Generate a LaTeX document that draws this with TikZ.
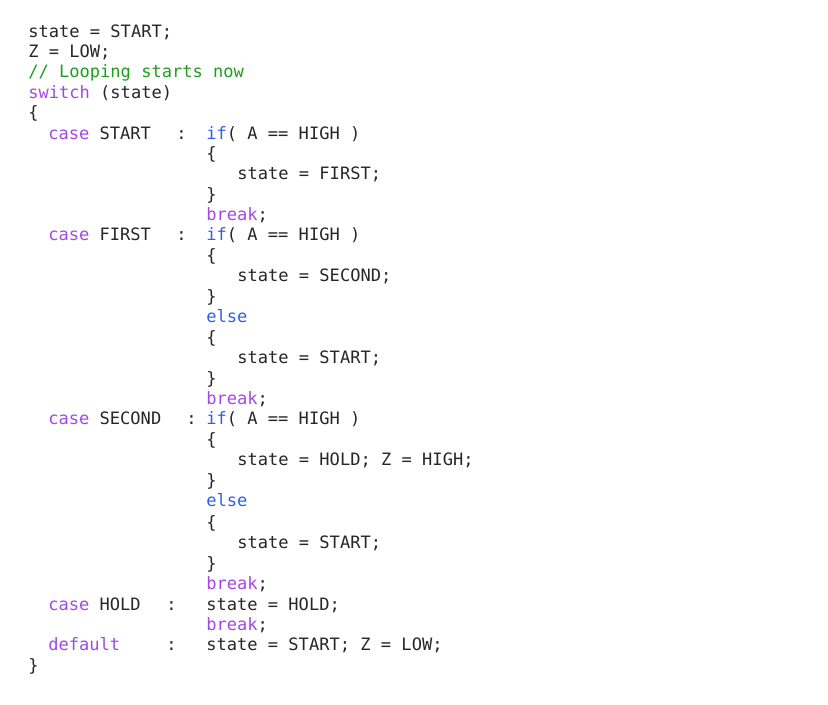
\documentclass[tikz,border=0pt]{standalone}
\usepackage{fontspec}
\setmonofont{DejaVu Sans Mono}
\definecolor{kw}{HTML}{A348E6}
\definecolor{kb}{HTML}{2F5FE8}
\definecolor{cm}{HTML}{1E9E1E}
\tikzset{code/.style={anchor=base west,inner sep=0pt,font=\fontsize{12.8pt}{15pt}\ttfamily,text=black!85}}
\begin{document}
\begin{tikzpicture}[x=0.75pt,y=-0.75pt]
\useasboundingbox (0,0) rectangle (828,705);
\newcommand\codeln[3]{\node[code] at (#1,#2+5) {#3};}
\codeln{28}{33}{state = START;}
\codeln{28}{53}{Z = LOW;}
\codeln{28}{73}{\textcolor{cm}{// Looping starts now}}
\codeln{28}{94}{\textcolor{kw}{switch} (state)}
\codeln{28}{114}{\{}
\codeln{48}{135}{\textcolor{kw}{case} START}
\codeln{176}{135}{:}
\codeln{206}{135}{\textcolor{kb}{if}( A == HIGH )}
\codeln{206}{155}{\{}
\codeln{237}{175}{state = FIRST;}
\codeln{206}{196}{\}}
\codeln{206}{216}{\textcolor{kw}{break};}
\codeln{48}{236}{\textcolor{kw}{case} FIRST}
\codeln{176}{236}{:}
\codeln{206}{236}{\textcolor{kb}{if}( A == HIGH )}
\codeln{206}{257}{\{}
\codeln{237}{277}{state = SECOND;}
\codeln{206}{298}{\}}
\codeln{206}{318}{\textcolor{kb}{else}}
\codeln{206}{339}{\{}
\codeln{237}{359}{state = START;}
\codeln{206}{380}{\}}
\codeln{206}{400}{\textcolor{kw}{break};}
\codeln{48}{420}{\textcolor{kw}{case} SECOND}
\codeln{186}{420}{:}
\codeln{206}{420}{\textcolor{kb}{if}( A == HIGH )}
\codeln{206}{441}{\{}
\codeln{237}{461}{state = HOLD; Z = HIGH;}
\codeln{206}{482}{\}}
\codeln{206}{502}{\textcolor{kb}{else}}
\codeln{206}{523}{\{}
\codeln{237}{543}{state = START;}
\codeln{206}{564}{\}}
\codeln{206}{584}{\textcolor{kw}{break};}
\codeln{48}{605}{\textcolor{kw}{case} HOLD}
\codeln{166}{605}{:}
\codeln{206}{605}{state = HOLD;}
\codeln{206}{625}{\textcolor{kw}{break};}
\codeln{48}{645}{\textcolor{kw}{default}}
\codeln{166}{645}{:}
\codeln{206}{645}{state = START; Z = LOW;}
\codeln{28}{666}{\}}
\end{tikzpicture}
\end{document}
